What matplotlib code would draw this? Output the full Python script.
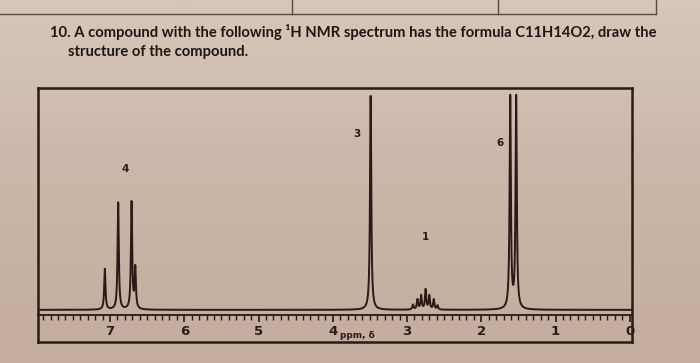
import numpy as np
import matplotlib
matplotlib.use("Agg")
import matplotlib.pyplot as plt
from matplotlib.colors import LinearSegmentedColormap
from matplotlib.lines import Line2D

# ---- data (chemical shift in ppm, relative intensity) ----
aromatic_ppm = [7.07, 6.89, 6.71, 6.66]
aromatic_int = [19, 50, 50, 19]
singlet_ppm = [3.49]
singlet_int = [100]
multiplet_ppm = [2.92, 2.86, 2.81, 2.75, 2.70, 2.64, 2.59]
multiplet_int = [2.3, 4.7, 6.5, 9.3, 6.5, 4.7, 1.9]
doublet_ppm = [1.61, 1.53]
doublet_int = [99, 99]

integral_labels = ["4", "3", "1", "6"]
integral_ppm = [6.80, 3.67, 2.75, 1.75]
integral_y = [66, 82, 34, 78]

tick_values = [0, 1, 2, 3, 4, 5, 6, 7]
tick_labels = ["0", "1", "2", "3", "4", "5", "6", "7"]

title_line1 = "10. A compound with the following \u00b9H NMR spectrum has the formula C11H14O2, draw the"
title_line2 = "structure of the compound."

INK = "#2b1a15"
W, H = 700, 363

def fx(px):
    return px / W

def fy(py):
    return 1 - py / H

fig = plt.figure(figsize=(7, 3.63), dpi=100)

# paper background with soft gradient
bg = fig.add_axes([0, 0, 1, 1], zorder=-10)
cmap = LinearSegmentedColormap.from_list("paper", ["#d6c7bb", "#cbb6a8", "#c4ad9e"])
grad = np.linspace(0, 1, 256).reshape(-1, 1)
bg.imshow(grad, extent=[0, 1, 0, 1], aspect="auto", cmap=cmap, origin="upper")
bg.set_axis_off()

# table lines at top of page
for seg in [((0, 656), (14, 14)), ((292, 292), (0, 14)), ((498, 498), (0, 14)), ((656, 656), (0, 14))]:
    fig.add_artist(Line2D([fx(seg[0][0]), fx(seg[0][1])], [fy(seg[1][0]), fy(seg[1][1])],
                          color="#5a4a42", lw=1.0, transform=fig.transFigure))

# title
fig.text(fx(50), fy(32), title_line1, family="Lato", weight="bold", fontsize=10.6,
         color="#1e1512", va="center", ha="left")
fig.text(fx(68), fy(52), title_line2, family="Lato", weight="bold", fontsize=10.6,
         color="#1e1512", va="center", ha="left")

# outer frame
frame = fig.add_axes([fx(38), fy(342), (632 - 38) / W, (342 - 88) / H])
frame.set_facecolor("none")
frame.set_xticks([])
frame.set_yticks([])
for s in frame.spines.values():
    s.set_color(INK)
    s.set_linewidth(1.8)

# spectrum axes
ax = fig.add_axes([fx(38), fy(315), (632 - 38) / W, (315 - 88) / H])
ax.set_facecolor("none")
for side in ["top", "left", "right"]:
    ax.spines[side].set_visible(False)
ax.spines["bottom"].set_color(INK)
ax.spines["bottom"].set_linewidth(1.3)

ppm = np.linspace(7.97, -0.03, 40000)
hw = 0.010
spec = np.zeros_like(ppm)
for pos_list, int_list in [(aromatic_ppm, aromatic_int), (singlet_ppm, singlet_int),
                           (multiplet_ppm, multiplet_int), (doublet_ppm, doublet_int)]:
    for p, h in zip(pos_list, int_list):
        spec += h / (1 + ((ppm - p) / hw) ** 2)
ax.plot(ppm, spec, color=INK, lw=1.4, solid_joinstyle="round")

ax.set_xlim(7.97, -0.03)
ax.set_ylim(-2.4, 103.7)
ax.set_yticks([])
ax.set_xticks(tick_values)
ax.set_xticklabels(tick_labels)
ax.set_xticks(np.arange(0, 8.0, 0.1), minor=True)
ax.tick_params(axis="x", which="major", length=5, width=1.2, color=INK, pad=2,
               labelsize=9.5, labelcolor=INK)
ax.tick_params(axis="x", which="minor", length=3.5, width=1.0, color=INK)
for t in ax.get_xticklabels():
    t.set_fontweight("bold")

for lab, xp, yp in zip(integral_labels, integral_ppm, integral_y):
    ax.text(xp, yp, lab, fontsize=7.5, weight="bold", color=INK, ha="center", va="center")

fig.text(fx(357), fy(336), "ppm, \u03b4", fontsize=6.5, weight="bold", color=INK,
         ha="center", va="center")

fig.savefig("out.png", dpi=100)
